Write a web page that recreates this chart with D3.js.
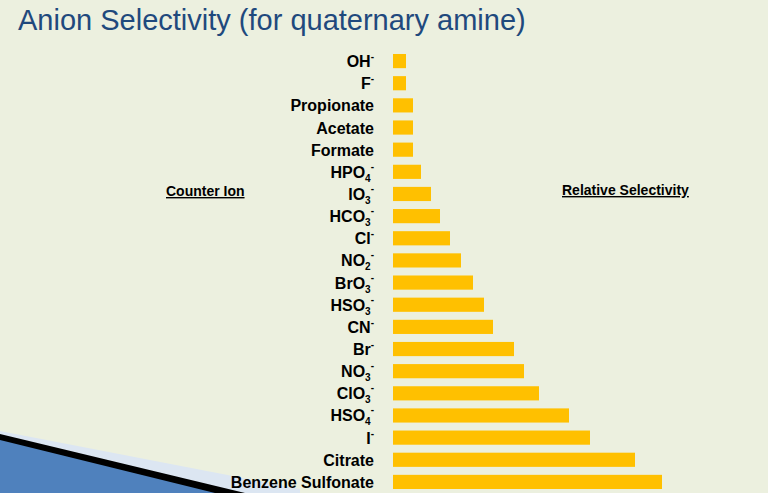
<!DOCTYPE html>
<html><head><meta charset="utf-8">
<script src="https://cdn.jsdelivr.net/npm/d3@7"></script>
<style>body{margin:0;background:#ECF0DF;}svg{display:block;}</style>
</head><body><svg width="768" height="493"></svg>
<script>
// label parts: [base, subscript]; every ion carries a "-" superscript
const ions = [["OH",""],["F",""],["Propionate",null],["Acetate",null],["Formate",null],["HPO","4"],["IO","3"],["HCO","3"],["Cl",""],["NO","2"],["BrO","3"],["HSO","3"],["CN",""],["Br",""],["NO","3"],["ClO","3"],["HSO","4"],["I",""],["Citrate",null],["Benzene Sulfonate",null]];
const selectivity = [13,13,20,20,20,28,38,47,57,68,80,91,100,121,131,146,176,197,242,269];

const svg = d3.select("svg");

// --- corner decoration ---
svg.append("path").attr("d","M0,431 L300,489 L300,493 L0,493Z").attr("fill","#DCE6F2");
svg.append("path").attr("d","M0,434 L245,493 L0,493Z").attr("fill","#000");
svg.append("path").attr("d","M0,440 L215,493 L0,493Z").attr("fill","#4F81BD");

svg.append("text").attr("x",18).attr("y",30).attr("font-family","Liberation Sans, Arial")
  .attr("font-size",29).attr("fill","#1F497D").text("Anion Selectivity (for quaternary amine)");

const x = d3.scaleLinear().domain([0, 269]).range([393, 662]);
const y = d3.scaleBand().domain(d3.range(ions.length)).range([50, 493]).paddingInner(0.36).paddingOuter(0.18);

svg.selectAll("rect.bar").data(selectivity).enter().append("rect")
  .attr("x", x(0)).attr("y", (d,i) => y(i)).attr("height", y.bandwidth())
  .attr("width", d => x(d) - x(0)).attr("fill", "#FFC000");

const font = "Liberation Sans, Arial";
const labels = svg.selectAll("text.lab").data(ions).enter().append("text")
  .attr("text-anchor","end").attr("x",374).attr("y",(d,i)=>y(i)+y.bandwidth()/2+6)
  .attr("font-family",font).attr("font-size",16).attr("font-weight","bold").attr("fill","#000");
labels.each(function(d){
  const t = d3.select(this);
  t.append("tspan").text(d[0]);
  if (d[1] === null) return;
  if (d[1]) t.append("tspan").attr("font-size",10).attr("dy",4).text(d[1]);
  t.append("tspan").attr("font-size",10).attr("dy", d[1] ? -12 : -7).text("-");
});

svg.append("text").attr("x",166).attr("y",196).attr("font-family",font).attr("font-size",14)
  .attr("font-weight","bold").attr("text-decoration","underline").text("Counter Ion");
svg.append("text").attr("x",562).attr("y",195).attr("font-family",font).attr("font-size",14)
  .attr("font-weight","bold").attr("text-decoration","underline").text("Relative Selectivity");
</script></body></html>
